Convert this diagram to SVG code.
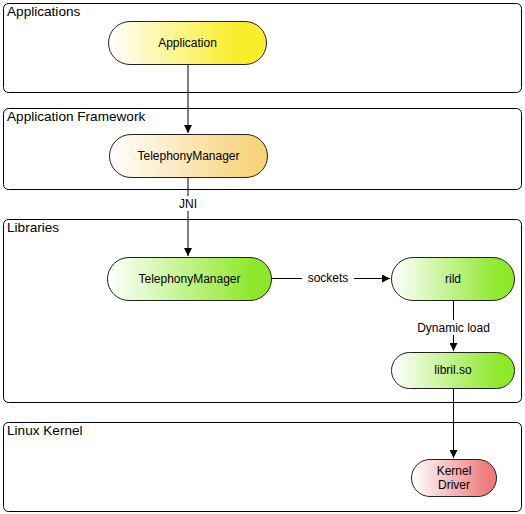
<svg xmlns="http://www.w3.org/2000/svg" width="525" height="514" viewBox="0 0 525 514">
<style>
.layer{fill:#fff;stroke:#000;stroke-width:1}
.ltitle{font-family:"Liberation Sans",Arial,sans-serif;font-size:13.6px;fill:#000}
.node{stroke:#222;stroke-width:1}
.ntext{font-family:"Liberation Sans",Arial,sans-serif;font-size:12px;fill:#000;text-anchor:middle}
.conn{stroke:#000;stroke-width:1;fill:none}
.clabel{font-family:"Liberation Sans",Arial,sans-serif;font-size:12px;fill:#000;text-anchor:middle}
</style>
<defs>
<linearGradient id="gY" x1="0" y1="0" x2="1" y2="0"><stop offset="0" stop-color="#fff"/><stop offset="0.8" stop-color="#f9ee2c"/><stop offset="1" stop-color="#f9ee2c"/></linearGradient>
<linearGradient id="gO" x1="0" y1="0" x2="1" y2="0"><stop offset="0" stop-color="#fff"/><stop offset="0.9" stop-color="#f7d37c"/><stop offset="1" stop-color="#f7d37c"/></linearGradient>
<linearGradient id="gG" x1="0" y1="0" x2="1" y2="0"><stop offset="0" stop-color="#fff"/><stop offset="0.88" stop-color="#8ee82a"/><stop offset="1" stop-color="#8ee82a"/></linearGradient>
<linearGradient id="gR" x1="0" y1="0" x2="1" y2="0"><stop offset="0" stop-color="#fff"/><stop offset="0.9" stop-color="#f07b7b"/><stop offset="1" stop-color="#f07b7b"/></linearGradient>
<marker id="arr" viewBox="0 0 10 10" refX="10" refY="5" markerWidth="8" markerHeight="8" markerUnits="userSpaceOnUse" orient="auto"><path d="M0,0 L10,5 L0,10 z" fill="#000"/></marker>
</defs>

<g id="layer-applications">
<rect class="layer" x="3.5" y="3.5" width="518" height="89" rx="5"/>
<text class="ltitle" x="7" y="16">Applications</text>
</g>
<g id="layer-framework">
<rect class="layer" x="3.5" y="108.5" width="518" height="81" rx="5"/>
<text class="ltitle" x="7" y="121">Application Framework</text>
</g>
<g id="layer-libraries">
<rect class="layer" x="3.5" y="219.5" width="518" height="183" rx="5"/>
<text class="ltitle" x="7" y="232">Libraries</text>
</g>
<g id="layer-kernel">
<rect class="layer" x="3.5" y="422.5" width="518" height="89" rx="5"/>
<text class="ltitle" x="7" y="435">Linux Kernel</text>
</g>

<g id="connectors">
<line class="conn" x1="188" y1="64" x2="188" y2="133" marker-end="url(#arr)"/>
<line class="conn" x1="188" y1="177" x2="188" y2="256" marker-end="url(#arr)"/>
<rect x="176" y="196" width="24" height="15" fill="#fff"/>
<text class="clabel" x="188" y="208">JNI</text>
<line class="conn" x1="272" y1="278.5" x2="390" y2="278.5" marker-end="url(#arr)"/>
<rect x="302" y="271" width="52" height="15" fill="#fff"/>
<text class="clabel" x="328" y="282">sockets</text>
<line class="conn" x1="453.5" y1="300" x2="453.5" y2="351" marker-end="url(#arr)"/>
<rect x="414" y="320" width="79" height="15" fill="#fff"/>
<text class="clabel" x="453.5" y="332">Dynamic load</text>
<line class="conn" x1="453.5" y1="388" x2="453.5" y2="458" marker-end="url(#arr)"/>
</g>

<g id="node-application">
<rect class="node" x="108.5" y="21.5" width="158" height="43" rx="21.5" fill="url(#gY)"/>
<text class="ntext" x="187.5" y="47">Application</text>
</g>
<g id="node-telephony-framework">
<rect class="node" x="109.5" y="134.5" width="158" height="43" rx="21.5" fill="url(#gO)"/>
<text class="ntext" x="188.5" y="160">TelephonyManager</text>
</g>
<g id="node-telephony-libs">
<rect class="node" x="107.5" y="257.5" width="164" height="43" rx="21.5" fill="url(#gG)"/>
<text class="ntext" x="189.5" y="283">TelephonyManager</text>
</g>
<g id="node-rild">
<rect class="node" x="391.5" y="257.5" width="123" height="43" rx="21.5" fill="url(#gG)"/>
<text class="ntext" x="453" y="283">rild</text>
</g>
<g id="node-libril">
<rect class="node" x="391.5" y="352.5" width="123" height="36" rx="18" fill="url(#gG)"/>
<text class="ntext" x="453" y="374">libril.so</text>
</g>
<g id="node-kernel-driver">
<rect class="node" x="411.5" y="459.5" width="85" height="37" rx="18.5" fill="url(#gR)"/>
<text class="ntext" x="454" y="475">Kernel</text>
<text class="ntext" x="454" y="489">Driver</text>
</g>
</svg>
